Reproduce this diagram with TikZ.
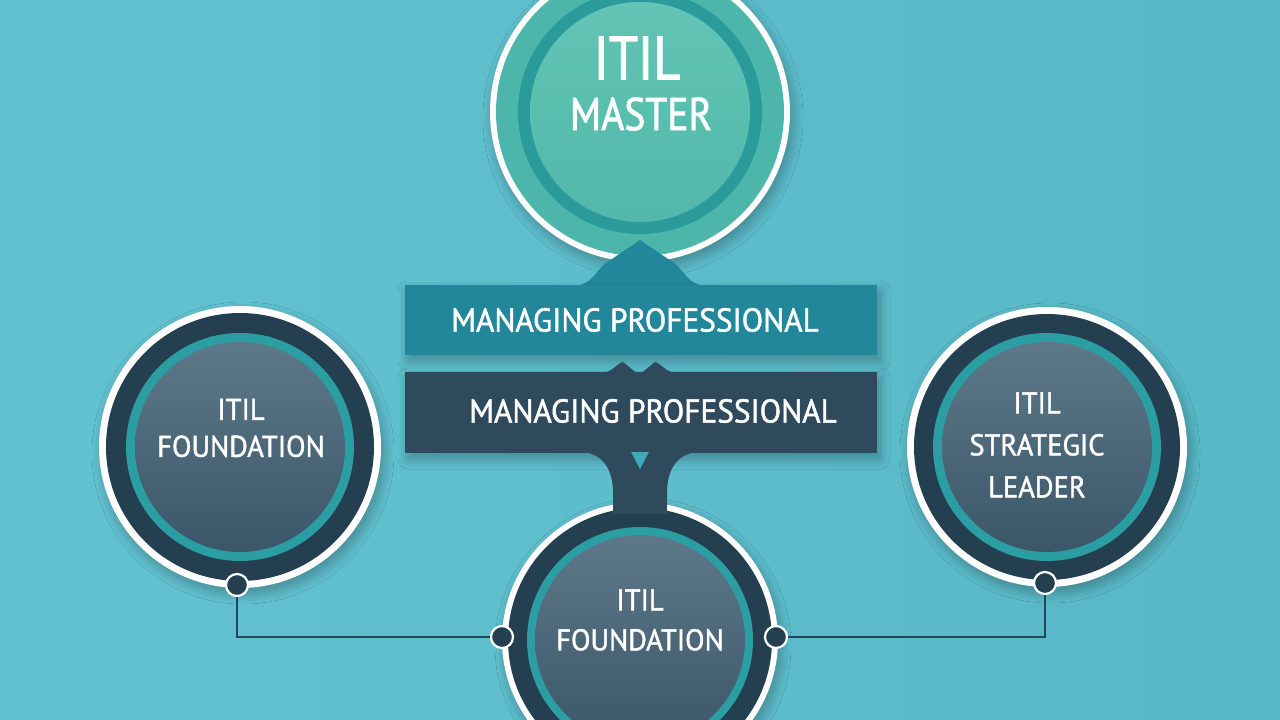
\documentclass[tikz,border=0pt]{standalone}
\usepackage{fontspec}
\setmainfont{PT Sans}
\newfontfamily\labfont[FakeStretch=0.95, FakeBold=1.4]{PT Sans}
\newfontfamily\bigfont[FakeStretch=0.86, FakeBold=1.6]{PT Sans}
\usetikzlibrary{shadows.blur}
\definecolor{bg}{HTML}{5BBFCE}
\definecolor{bgdark}{HTML}{3FA9B8}
\definecolor{slate}{HTML}{2E4A5C}
\definecolor{ringdark}{HTML}{243F50}
\definecolor{ringteal}{HTML}{2B9EA4}
\definecolor{innerA}{HTML}{5D7989}
\definecolor{innerB}{HTML}{3A5668}
\definecolor{banteal}{HTML}{22879A}
\definecolor{mring}{HTML}{4DB6AA}
\definecolor{mdark}{HTML}{2A9A9B}
\definecolor{minA}{HTML}{62C4B4}
\definecolor{minB}{HTML}{52B8AA}
\definecolor{wire}{HTML}{24465A}
\tikzset{
  softshadow/.style={blur shadow={shadow blur steps=12, shadow xshift=3pt, shadow yshift=-6pt, shadow opacity=28, shadow blur radius=10pt}},
  bubble/.style={circle, inner sep=0pt, minimum size=#1},
  labeltext/.style={text=white, align=center},
  bantext/.style={text=white, font=\labfont\fontsize{33}{38}\selectfont},
  dot/.style={circle, inner sep=0pt, minimum size=22pt, fill=ringdark, draw=white, line width=2.2pt},
  wireline/.style={draw=wire, line width=2pt},
}
\begin{document}
\begin{tikzpicture}[x=1pt, y=-1pt]
\useasboundingbox (0,0) rectangle (1280,720);
\clip (0,0) rectangle (1280,720);
\shade[left color=bg!95!white, right color=bg!96!black] (0,0) rectangle (1280,720);

% bubble anchors
\node[bubble=282pt] (bubL) at (240,447) {};
\node[bubble=280pt] (bubR) at (1047,447) {};
\node[bubble=276pt] (bubB) at (640,640) {};
\node[bubble=300pt] (bubT) at (640,112) {};

% dark bubbles
\fill[white, softshadow] (bubL) circle (141pt);
\fill[ringdark] (bubL) circle (134pt);
\fill[ringteal] (bubL) circle (114pt);
\shade[top color=innerA, bottom color=innerB] (bubL) circle (105pt);

\fill[white, softshadow] (bubR) circle (140pt);
\fill[ringdark] (bubR) circle (133pt);
\fill[ringteal] (bubR) circle (114pt);
\shade[top color=innerA, bottom color=innerB] (bubR) circle (105pt);

\fill[white, softshadow] (bubB) circle (138pt);
\fill[ringdark] (bubB) circle (132pt);
\fill[ringteal] (bubB) circle (113pt);
\shade[top color=innerA, bottom color=innerB] (bubB) circle (105pt);

% master bubble
\fill[white, softshadow] (bubT) circle (150pt);
\fill[mring] (bubT) circle (144pt);
\fill[mdark] (bubT) circle (122pt);
\shade[top color=minA, bottom color=minB] (bubT) circle (110pt);

% tab above banner 1
\fill[banteal] (572,286) .. controls (592,286) and (596,270) .. (606,263) -- (640,240) -- (674,263) .. controls (684,270) and (688,286) .. (708,286) -- cycle;

% banners
\node[fill=banteal, minimum width=472pt, minimum height=70pt, inner sep=0pt, softshadow] (ban1) at (641,320) {};
\node[fill=slate, minimum width=472pt, minimum height=81pt, inner sep=0pt, softshadow] (ban2) at (641,412.5) {};

% notch above banner 2
\fill[slate] (600,373) .. controls (612,373) and (616,364) .. (623,362) -- (639,375) -- (655,362) .. controls (662,364) and (666,373) .. (678,373) -- cycle;

% funnel below banner 2
\fill[slate] (584,452) .. controls (604,455) and (612,470) .. (613,490) -- (613,514) -- (667,514) -- (667,490) .. controls (668,470) and (676,455) .. (696,452) -- cycle;
\fill[bgdark] (631,452) -- (649,452) -- (640,469) -- cycle;

% dots
\node[dot] (dL) at (237,585) {};
\node[dot] (dR) at (1045,583) {};
\node[dot] (dBL) at (502,637) {};
\node[dot] (dBR) at (776,637) {};

% connectors
\draw[wireline] (dL.south) |- (dBL.west);
\draw[wireline] (dR.south) |- (dBR.east);

% texts
\node[text=white, font=\bigfont\fontsize{61}{61}\selectfont] (tItil) at (637,58) {ITIL};
\node[text=white, font=\bigfont\fontsize{46}{46}\selectfont] (tMaster) at (641,114) {MASTER};
\node[bantext] (tMP1) at (635,320) {MANAGING PROFESSIONAL};
\node[bantext] (tMP2) at (653,411) {MANAGING PROFESSIONAL};
\node[labeltext, font=\labfont\fontsize{30}{37}\selectfont] (tL) at (241,428) {ITIL\\FOUNDATION};
\node[labeltext, font=\labfont\fontsize{30}{42}\selectfont] (tR) at (1037,445) {ITIL\\STRATEGIC\\LEADER};
\node[labeltext, font=\labfont\fontsize{30}{40}\selectfont] (tB) at (640,620) {ITIL\\FOUNDATION};
\end{tikzpicture}
\end{document}
